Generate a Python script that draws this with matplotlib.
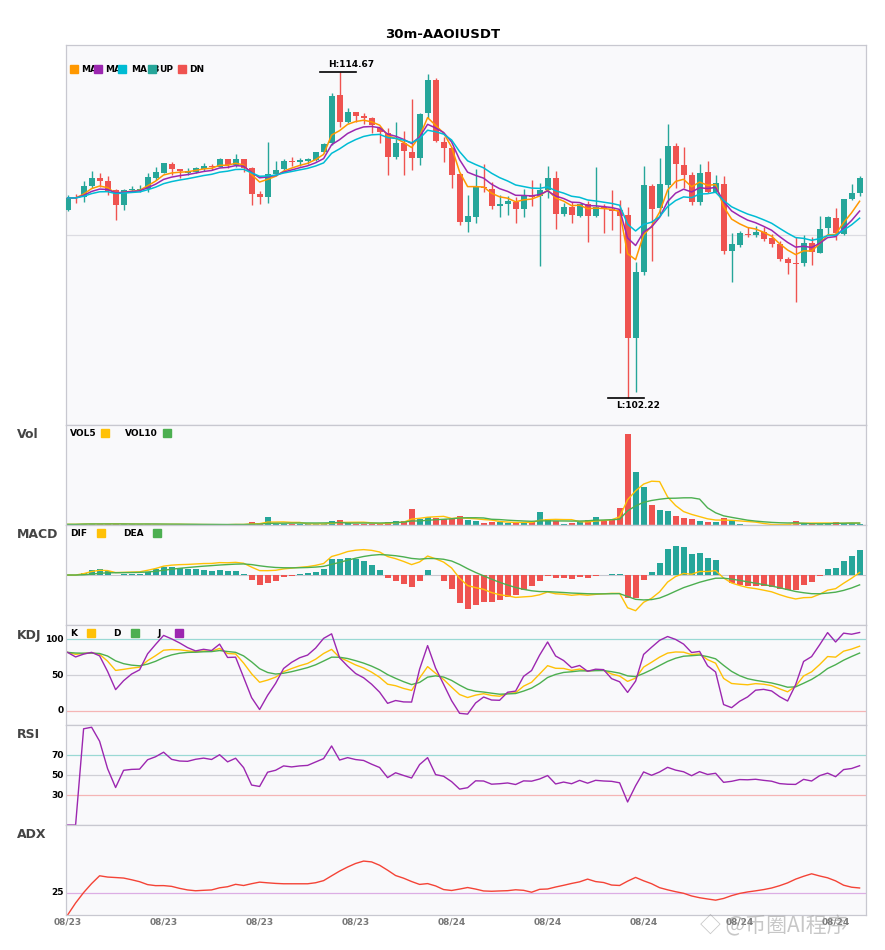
import numpy as np
import pandas as pd
import matplotlib
matplotlib.use("Agg")
import matplotlib.pyplot as plt
from matplotlib.patches import Rectangle

# 30m candles
opens = [109.40, 109.90, 109.88, 110.31, 110.63, 110.50, 110.16, 109.59, 110.16, 110.17,
         110.19, 110.61, 110.82, 111.15, 110.97, 110.82, 110.86, 110.97, 111.06, 111.05,
         111.33, 111.12, 111.33, 110.99, 110.01, 109.90, 110.77, 110.95, 111.28, 111.24,
         111.28, 111.30, 111.61, 111.94, 113.78, 112.76, 113.14, 112.98, 112.89, 112.51,
         112.32, 111.43, 111.96, 111.60, 111.39, 113.08, 114.35, 112.00, 111.75, 110.77,
         108.95, 109.14, 110.29, 110.19, 109.56, 109.63, 109.71, 109.44, 109.93, 109.93,
         110.16, 110.62, 109.25, 109.50, 109.17, 109.61, 109.17, 109.52, 109.45, 109.40,
         109.21, 104.51, 107.05, 110.31, 109.46, 110.35, 111.84, 111.11, 110.73, 109.71,
         110.86, 110.10, 110.39, 107.85, 108.06, 108.48, 108.46, 108.57, 108.33, 108.10,
         107.52, 107.39, 107.39, 108.13, 107.77, 108.70, 109.08, 108.48, 109.82, 110.06]
highs = [109.97, 110.01, 110.51, 110.89, 110.81, 110.69, 110.19, 110.20, 110.31, 110.35,
         110.81, 111.04, 111.20, 111.24, 110.97, 110.99, 111.05, 111.18, 111.15, 111.37,
         111.33, 111.53, 111.33, 111.03, 110.13, 112.00, 111.28, 111.33, 111.42, 111.37,
         111.37, 111.61, 111.96, 113.85, 114.67, 113.27, 113.14, 113.10, 112.95, 112.57,
         112.51, 112.76, 112.42, 113.62, 113.11, 114.60, 114.42, 112.19, 111.79, 110.82,
         109.97, 110.95, 111.15, 110.48, 109.97, 109.93, 109.90, 110.20, 110.54, 110.44,
         111.08, 110.88, 109.65, 109.71, 109.63, 109.75, 111.03, 109.63, 110.16, 109.78,
         109.50, 107.43, 111.07, 110.39, 111.37, 112.68, 111.94, 111.81, 110.86, 111.15,
         111.28, 110.73, 110.69, 108.53, 108.61, 108.74, 108.79, 108.74, 108.48, 108.23,
         107.62, 108.38, 108.45, 108.36, 109.17, 109.17, 109.46, 109.82, 110.39, 110.69]
lows = [109.37, 109.67, 109.71, 110.24, 110.29, 109.97, 109.02, 109.40, 110.10, 110.10,
        110.10, 110.54, 110.80, 110.73, 110.61, 110.73, 110.80, 110.90, 110.92, 111.03,
        110.99, 111.05, 110.86, 109.59, 109.63, 109.68, 110.69, 110.90, 111.08, 111.08,
        111.15, 111.28, 111.57, 111.88, 112.57, 112.70, 112.76, 112.68, 112.32, 111.94,
        110.73, 111.33, 110.73, 110.92, 111.11, 112.89, 112.00, 111.24, 110.23, 108.83,
        108.57, 108.91, 110.10, 109.44, 109.14, 109.21, 108.91, 109.14, 109.55, 107.26,
        109.84, 108.67, 109.17, 108.91, 109.14, 108.19, 109.14, 108.53, 108.64, 107.77,
        102.22, 102.47, 106.92, 107.47, 109.17, 109.17, 110.23, 110.23, 109.59, 109.59,
        110.06, 110.03, 107.72, 106.66, 107.98, 108.38, 108.38, 108.23, 107.98, 107.47,
        106.96, 105.90, 107.26, 107.30, 107.75, 108.48, 108.25, 108.45, 109.78, 109.93]
closes = [109.86, 109.84, 110.31, 110.63, 110.51, 110.13, 109.59, 110.16, 110.20, 110.21,
          110.67, 110.86, 111.20, 110.96, 110.90, 110.89, 111.01, 111.08, 111.04, 111.33,
          111.11, 111.33, 110.99, 110.01, 109.90, 110.77, 110.92, 111.28, 111.22, 111.30,
          111.34, 111.61, 111.91, 113.74, 112.76, 113.14, 112.99, 112.92, 112.64, 112.38,
          111.43, 111.94, 111.66, 111.39, 113.06, 114.35, 112.04, 111.75, 110.73, 108.95,
          109.17, 110.29, 110.25, 109.56, 109.63, 109.74, 109.44, 109.93, 109.88, 110.16,
          110.62, 109.25, 109.50, 109.21, 109.63, 109.17, 109.52, 109.42, 109.37, 109.17,
          104.51, 107.05, 110.35, 109.44, 110.39, 111.84, 111.15, 110.73, 109.71, 110.82,
          110.10, 110.42, 107.85, 108.10, 108.51, 108.45, 108.56, 108.30, 108.10, 107.54,
          107.39, 107.35, 108.13, 107.81, 108.67, 109.12, 108.51, 109.82, 110.04, 110.61]
volumes = [2, 2, 4, 4, 3, 3, 3, 3, 2, 2, 3, 2, 2, 2, 2, 1, 1, 1, 1, 1,
           1, 4, 1, 10, 4, 25, 4, 3, 3, 4, 3, 3, 3, 13, 16, 5, 4, 4, 3, 5,
           9, 13, 12, 49, 17, 25, 20, 18, 18, 28, 16, 13, 6, 10, 8, 7, 7, 7, 8, 40,
           18, 11, 4, 7, 9, 15, 25, 11, 18, 52, 271, 157, 112, 61, 46, 43, 28, 22, 19, 13,
           10, 10, 21, 16, 4, 1, 1, 1, 1, 2, 4, 13, 7, 3, 3, 4, 10, 6, 6, 2]
tick_idx = [0, 12, 24, 36, 48, 60, 72, 84, 96]
tick_labels = ["08/23", "08/23", "08/23", "08/23", "08/24", "08/24", "08/24", "08/24", "08/24"]
ma_spans = [5, 8, 13]

df = pd.DataFrame({"open": opens, "high": highs, "low": lows, "close": closes, "vol": volumes})
close = df["close"]
x = np.arange(len(df))

UP = "#26a69a"
DN = "#ef5350"
cols = np.where(df["close"] >= df["open"], UP, DN)

# indicators
mas = [close.ewm(span=n, adjust=False).mean() for n in ma_spans]
vol5 = df["vol"].rolling(5, min_periods=1).mean()
vol10 = df["vol"].rolling(10, min_periods=1).mean()

dif = close.ewm(span=12, adjust=False).mean() - close.ewm(span=26, adjust=False).mean()
dea = dif.ewm(span=9, adjust=False).mean()
hist = (dif - dea) * 2

low9 = df["low"].rolling(9, min_periods=1).min()
high9 = df["high"].rolling(9, min_periods=1).max()
rsv = (close - low9) / (high9 - low9) * 100
k = rsv.ewm(com=2, adjust=False).mean()
d = k.ewm(com=2, adjust=False).mean()
j = 3 * k - 2 * d

delta = close.diff()
gain = delta.clip(lower=0).ewm(com=13).mean()
loss = (-delta.clip(upper=0)).ewm(com=13).mean()
rsi = (100 - 100 / (1 + gain / loss)).fillna(0)

prev_close = close.shift()
tr = pd.concat([df["high"] - df["low"], (df["high"] - prev_close).abs(),
                (df["low"] - prev_close).abs()], axis=1).max(axis=1)
up_move = df["high"].diff()
down_move = -df["low"].diff()
plus_dm = pd.Series(np.where((up_move > down_move) & (up_move > 0), up_move, 0.0))
minus_dm = pd.Series(np.where((down_move > up_move) & (down_move > 0), down_move, 0.0))
atr = tr.ewm(span=14, adjust=False).mean()
plus_di = 100 * plus_dm.ewm(span=14, adjust=False).mean() / atr
minus_di = 100 * minus_dm.ewm(span=14, adjust=False).mean() / atr
dx = (100 * (plus_di - minus_di).abs() / (plus_di + minus_di)).fillna(0)
adx = dx.ewm(span=14, adjust=False).mean()

W, H = 885, 950
fig = plt.figure(figsize=(W / 100, H / 100), dpi=100)


def fx(px):
    return px / W


def fy(py):
    return 1 - py / H


def add_axes(top, bottom):
    ax = fig.add_axes([fx(66), fy(bottom), fx(866) - fx(66), fy(top) - fy(bottom)])
    ax.set_facecolor("#f9f9fb")
    ax.set_xlim(-0.2, 99.8)
    ax.set_xticks([])
    ax.set_yticks([])
    for s in ax.spines.values():
        s.set_color("#c8c8d0")
        s.set_linewidth(0.9)
    return ax


ax_main = add_axes(45, 425)
ax_vol = add_axes(425, 525)
ax_macd = add_axes(525, 625)
ax_kdj = add_axes(625, 725)
ax_rsi = add_axes(725, 825)
ax_adx = add_axes(825, 915)

# main candles
hi, lo = max(highs), min(lows)
rng = hi - lo
ax_main.set_ylim(lo - 0.082 * rng, hi + 0.082 * rng)
ax_main.axhline((hi + lo) / 2, color="#dcdce2", lw=0.9, zorder=0)
ax_main.vlines(x, df["low"], df["high"], colors=cols, lw=1.0, zorder=2)
body_lo = np.minimum(df["open"], df["close"])
body_h = np.maximum((df["open"] - df["close"]).abs(), 0.02)
ax_main.bar(x, body_h, bottom=body_lo, width=0.75, color=cols, zorder=3)
for ma, c in zip(mas, ["#ff9800", "#9c27b0", "#00bcd4"]):
    ax_main.plot(x, ma, color=c, lw=1.1, zorder=4)

ih = int(np.argmax(highs))
il = int(np.argmin(lows))
ax_main.plot([ih - 2.4, ih + 2.1], [hi, hi], color="black", lw=1.2)
ax_main.text(ih - 1.4, hi + 0.1, f"H:{hi:.2f}", fontsize=6.5, fontweight="bold", va="bottom")
ax_main.plot([il - 2.4, il + 2.1], [lo, lo], color="black", lw=1.2)
ax_main.text(il - 1.4, lo - 0.12, f"L:{lo:.2f}", fontsize=6.5, fontweight="bold", va="top")

# volume
ax_vol.bar(x, df["vol"], width=0.75, color=cols)
ax_vol.plot(x, vol5, color="#ffc107", lw=1.0)
ax_vol.plot(x, vol10, color="#4caf50", lw=1.0)
ax_vol.set_ylim(0, max(volumes) * 1.1)

# macd
ax_macd.bar(x, hist, width=0.75, color=np.where(hist >= 0, UP, DN))
ax_macd.plot(x, dif, color="#ffc107", lw=1.0)
ax_macd.plot(x, dea, color="#4caf50", lw=1.0)
ax_macd.axhline(0, color="#c8c8d0", lw=0.8, zorder=0)
m = max(abs(dif).max(), abs(dea).max(), abs(hist).max())
ax_macd.set_ylim(-1.4 * m, 1.4 * m)

# kdj
ax_kdj.set_ylim(-20, 120)
for lvl, c in [(100, "#9ad9d4"), (50, "#d0d0d6"), (0, "#f5b5b5")]:
    ax_kdj.axhline(lvl, color=c, lw=0.9, zorder=0)
ax_kdj.plot(x, k, color="#ffc107", lw=1.0)
ax_kdj.plot(x, d, color="#4caf50", lw=1.0)
ax_kdj.plot(x, j, color="#9c27b0", lw=1.0)

# rsi
ax_rsi.set_ylim(0, 100)
for lvl, c in [(70, "#9ad9d4"), (50, "#d0d0d6"), (30, "#f5b5b5")]:
    ax_rsi.axhline(lvl, color=c, lw=0.9, zorder=0)
ax_rsi.plot(x, rsi, color="#9c27b0", lw=1.0)

# adx
ax_adx.set_ylim(0, 100)
ax_adx.axhline(25, color="#dcaee4", lw=0.9, zorder=0)
ax_adx.plot(x, adx, color="#f44336", lw=1.0)

for ax, ticks in [(ax_kdj, [100, 50, 0]), (ax_rsi, [70, 50, 30]), (ax_adx, [25])]:
    for t in ticks:
        ax.text(-0.5, t, str(t), ha="right", va="center", fontsize=6.5, fontweight="bold")

# x tick labels under last panel
for i, lab in zip(tick_idx, tick_labels):
    ax_adx.text(i, -3, lab, ha="center", va="top", fontsize=6.5, fontweight="bold",
                color="#777777")

# overlay for title, panel names and legends
ov = fig.add_axes([0, 0, 1, 1])
ov.set_xlim(0, W)
ov.set_ylim(H, 0)
ov.axis("off")

ov.text(443, 34, "30m-AAOIUSDT", ha="center", va="center", fontsize=9.5, fontweight="bold")
for name, py in [("Vol", 435), ("MACD", 535), ("KDJ", 635), ("RSI", 735), ("ADX", 835)]:
    ov.text(17, py, name, ha="left", va="center", fontsize=9, fontweight="bold",
            color="#444444")

z = [10]


def square(px, py, color):
    z[0] += 1
    ov.add_patch(Rectangle((px, py - 4), 8, 8, color=color, zorder=z[0]))


def label(px, py, s):
    z[0] += 1
    ov.text(px, py, s, ha="left", va="center", fontsize=6.5, fontweight="bold", zorder=z[0])


# main legend: square, label, next square drawn over the label's tail
ma_names = [f"MA{n}" for n in ma_spans]
for sx, tx, color, s in [(70, 81, "#ff9800", ma_names[0]), (94, 105, "#9c27b0", ma_names[1]),
                         (118, 131, "#00bcd4", ma_names[2]), (148, 159, UP, "UP"),
                         (178, 189, DN, "DN")]:
    square(sx, 69, color)
    label(tx, 69, s)

label(70, 433, "VOL5"); square(101, 433, "#ffc107")
label(125, 433, "VOL10"); square(163, 433, "#4caf50")
label(70, 533, "DIF"); square(97, 533, "#ffc107")
label(123, 533, "DEA"); square(153, 533, "#4caf50")
label(70, 633, "K"); square(87, 633, "#ffc107")
label(113, 633, "D"); square(131, 633, "#4caf50")
label(157, 633, "J"); square(175, 633, "#9c27b0")

ov.text(700, 925, "◇ @币圈AI程序", ha="left", va="center", fontsize=15,
        color="#9a9a9a", alpha=0.55, family=["Noto Sans CJK SC", "DejaVu Sans"], zorder=50)

fig.savefig("out.png", dpi=100)
